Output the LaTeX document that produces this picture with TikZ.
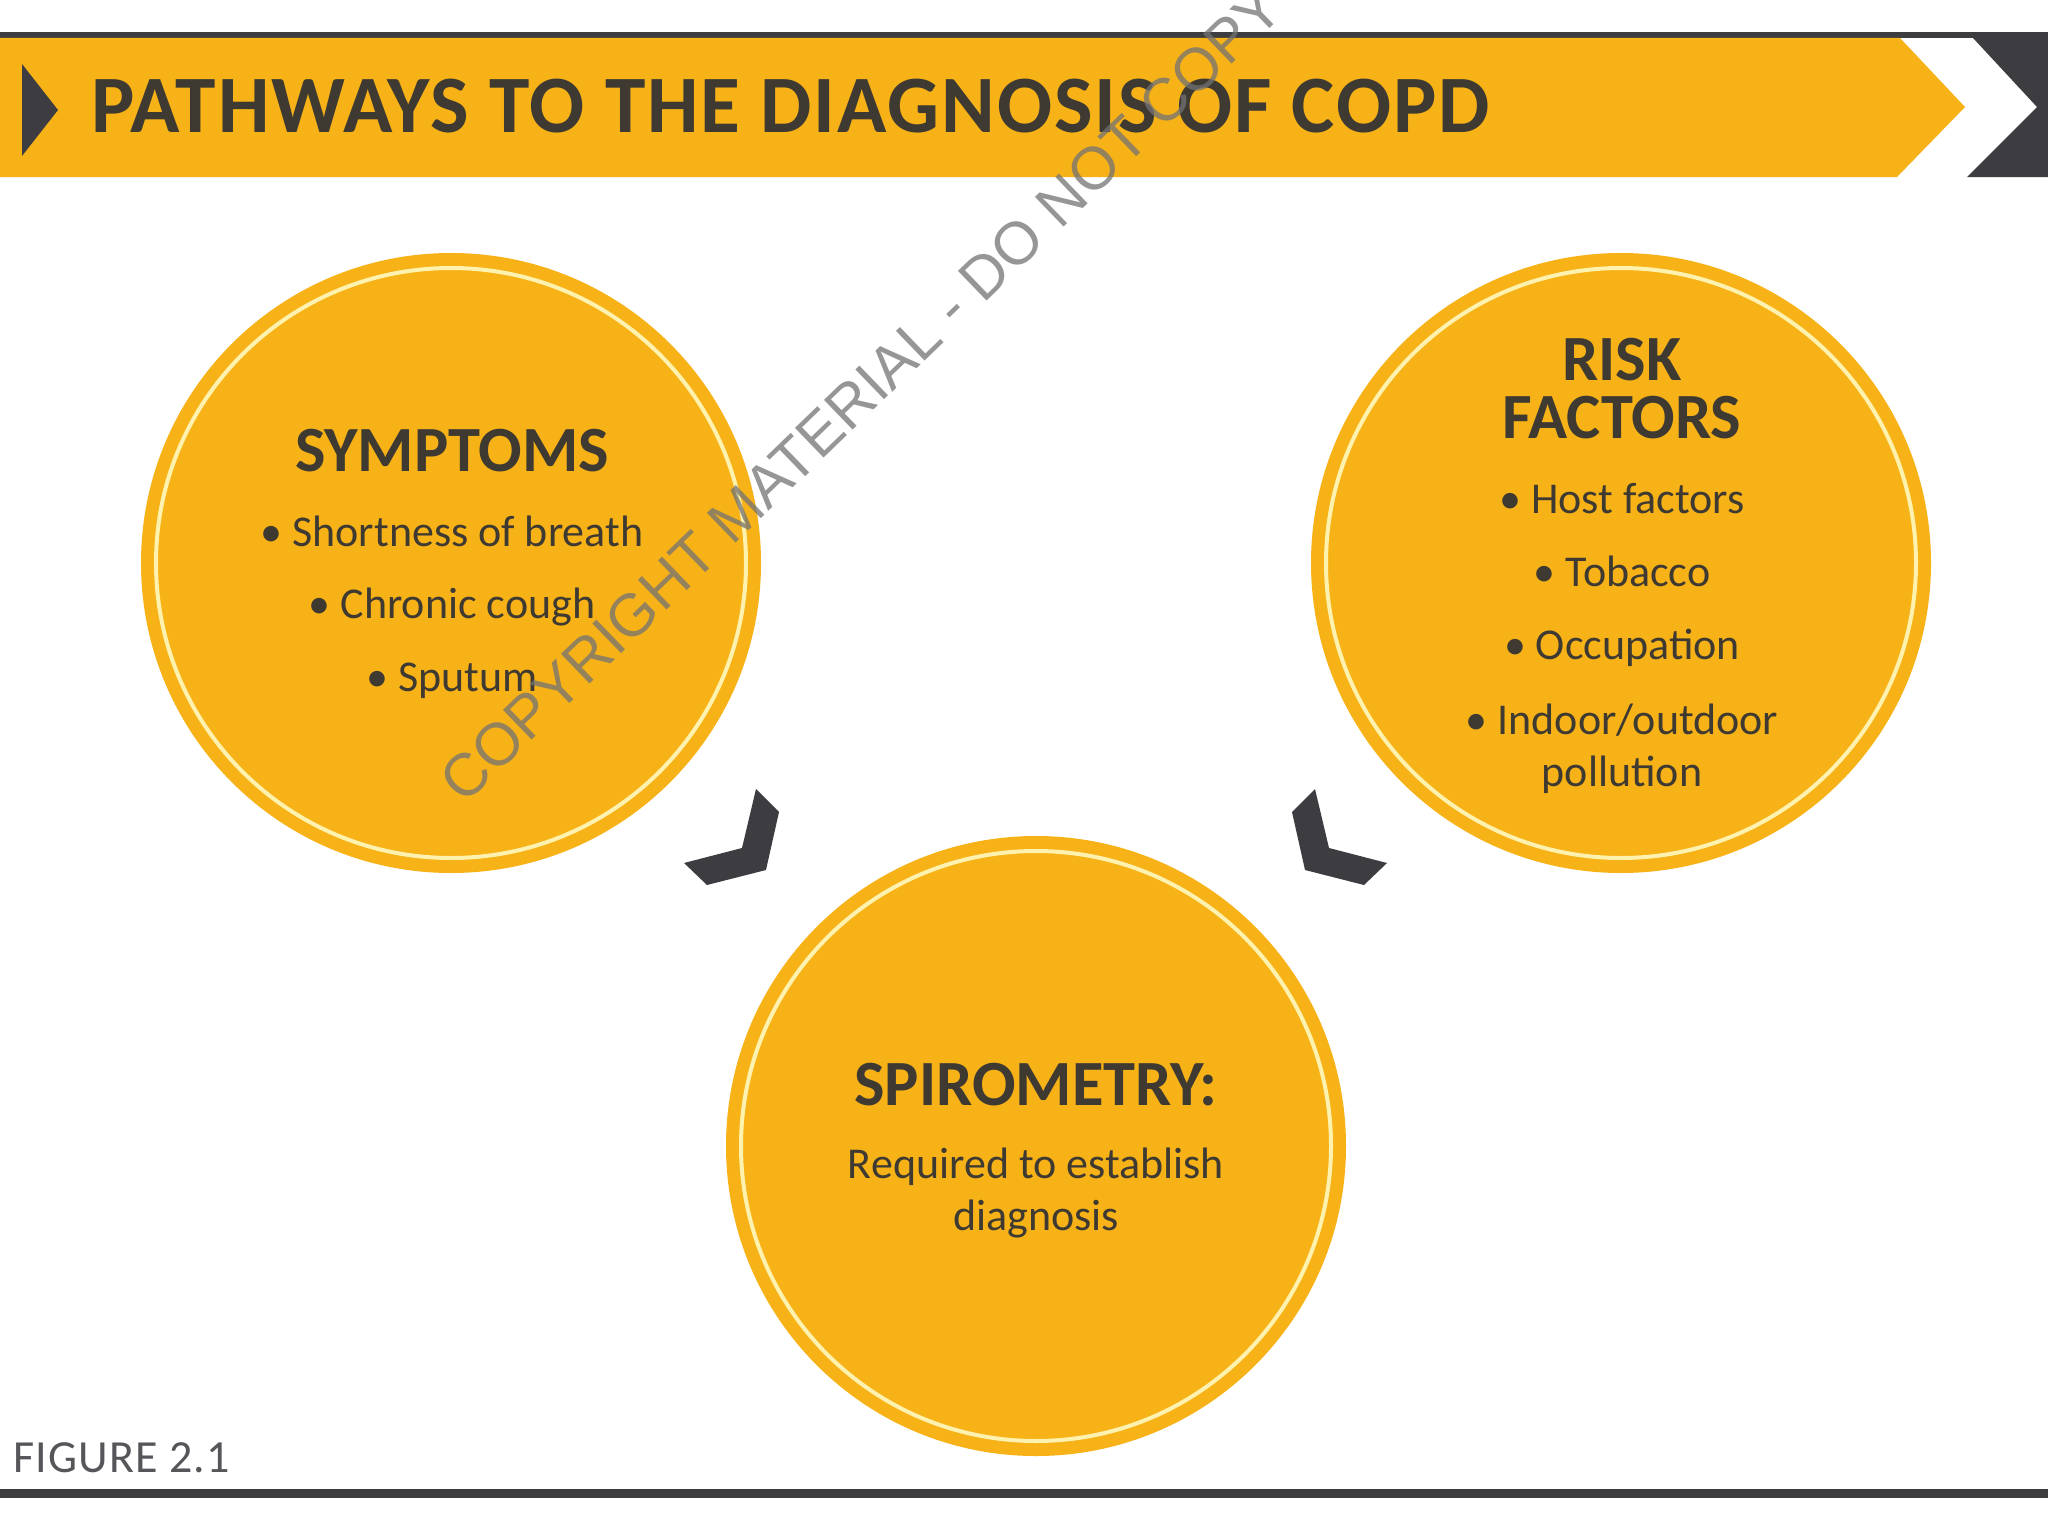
\documentclass[tikz,border=0pt]{standalone}
\usepackage{fontspec}
\setmainfont{Carlito}
\newfontfamily\wmfont{Liberation Sans}
\definecolor{copdyellow}{RGB}{247,178,24}
\definecolor{copdcream}{RGB}{255,242,175}
\definecolor{copddark}{RGB}{61,60,64}
\definecolor{copdtext}{RGB}{62,58,50}
\definecolor{copdgray}{RGB}{85,85,90}
\begin{document}
\begin{tikzpicture}[x=1pt,y=-1pt,
  bigdisc/.style={circle, fill=copdyellow, draw=none, minimum size=620pt, inner sep=0pt},
  ringline/.style={draw=copdcream, line width=4pt},
  titletext/.style={anchor=base west, inner sep=0pt, text=copdtext, font=\bfseries\fontsize{81.5}{90}\selectfont\addfontfeatures{LetterSpace=2.3}},
  headtext/.style={anchor=base, inner sep=0pt, text=copdtext, font=\bfseries\fontsize{64.5}{70}\selectfont},
  itemtext/.style={anchor=base, inner sep=0pt, text=copdtext, font=\fontsize{44}{50}\selectfont},
  figtext/.style={anchor=base west, inner sep=0pt, text=copdgray, font=\fontsize{46}{50}\selectfont\addfontfeatures{LetterSpace=2.5}},
  watermark/.style={anchor=base west, inner sep=0pt, text=black!55, opacity=0.75, font=\wmfont\fontsize{60}{66}\selectfont},
  darkshape/.style={fill=copddark, draw=none}]
\useasboundingbox (0,0) rectangle (2048,1536);
\clip (0,0) rectangle (2048,1536);
\fill[white] (0,0) rectangle (2048,1536);

% header band
\fill[copddark] (0,32) rectangle (2048,38.5);
\fill[copdyellow] (0,38) -- (1900,38) -- (1965,107) -- (1897,177) -- (0,177) -- cycle;
\fill[darkshape] (1973,38) -- (2048,38) -- (2048,177) -- (1967,177) -- (2037,107) -- cycle;
\fill[darkshape] (22,64) -- (58,110) -- (22,156) -- cycle;
\node[titletext] (title) at (91,133) {PATHWAYS TO THE DIAGNOSIS OF COPD};

% circles
\node[bigdisc] (sym) at (451,563) {};
\draw[ringline] (sym.center) circle[radius=295pt];
\node[bigdisc] (risk) at (1621,563) {};
\draw[ringline] (risk.center) circle[radius=295pt];
\node[bigdisc] (spiro) at (1036,1146) {};
\draw[ringline] (spiro.center) circle[radius=295pt];

% symptoms text
\node[headtext] (symh) at (452,471) {SYMPTOMS};
\node[itemtext] (sym1) at (452,546) {• Shortness of breath};
\node[itemtext] (sym2) at (452,618) {• Chronic cough};
\node[itemtext] (sym3) at (452,691) {• Sputum};

% risk factors text
\node[headtext] (riskh1) at (1622,380) {RISK};
\node[headtext] (riskh2) at (1622,438) {FACTORS};
\node[itemtext] (risk1) at (1622,513) {• Host factors};
\node[itemtext] (risk2) at (1622,586) {• Tobacco};
\node[itemtext] (risk3) at (1622,659) {• Occupation};
\node[itemtext] (risk4) at (1622,734) {• Indoor/outdoor};
\node[itemtext] (risk5) at (1622,786) {pollution};

% spirometry text
\node[headtext] (spiroh) at (1036,1105) {SPIROMETRY:};
\node[itemtext] (spiro1) at (1036,1178) {Required to establish};
\node[itemtext] (spiro2) at (1036,1230) {diagnosis};

% chevrons
\fill[darkshape] (756,789) -- (779,812) -- (766,870) -- (707,885) -- (684,863) -- (742,848) -- cycle;
\fill[darkshape] (1315,789) -- (1292,812) -- (1305,870) -- (1364,885) -- (1387,863) -- (1329,848) -- cycle;

% footer
\node[figtext] (fig) at (13,1472) {FIGURE 2.1};
\fill[copddark] (0,1489) rectangle (2048,1498);

% watermark
\node[watermark, rotate=44] (wm) at (464,806) {COPYRIGHT MATERIAL - DO NOT COPY};
\end{tikzpicture}
\end{document}
